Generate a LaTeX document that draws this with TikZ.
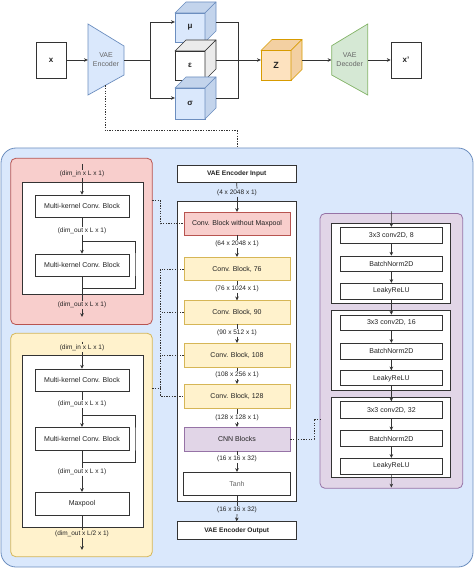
\documentclass[tikz,border=0pt]{standalone}
\usepackage{fontspec}
\setmainfont{Liberation Sans}
\usetikzlibrary{arrows.meta}
\definecolor{lc}{HTML}{333333}
\definecolor{txt}{HTML}{222222}
\definecolor{gtxt}{HTML}{666666}
\definecolor{bluef}{HTML}{DAE8FC}
\definecolor{blues}{HTML}{6C8EBF}
\definecolor{blued}{HTML}{C3D4EC}
\definecolor{redf}{HTML}{F8CECC}
\definecolor{reds}{HTML}{B85450}
\definecolor{yelf}{HTML}{FFF2CC}
\definecolor{yels}{HTML}{D6B656}
\definecolor{purf}{HTML}{E1D5E7}
\definecolor{purs}{HTML}{9673A6}
\definecolor{grnf}{HTML}{D5E8D4}
\definecolor{grns}{HTML}{82B366}
\definecolor{orgf}{HTML}{FDE2BF}
\definecolor{orgd}{HTML}{F3D0A2}
\definecolor{orgs}{HTML}{D79B00}
\definecolor{epsd}{HTML}{EBEBEB}
\newcommand\blkfont{\fontsize{7}{8.4}\selectfont}
\newcommand\dimfont{\fontsize{6.5}{7.5}\selectfont}
\newcommand\mybox[7]{%
  \pgfmathsetmacro\mbw{#5-#3}\pgfmathsetmacro\mbh{#6-#4}%
  \pgfmathsetmacro\mbx{(#3+#5)/2}\pgfmathsetmacro\mby{(#4+#6)/2}%
  \node[#2, minimum width=\mbw pt, minimum height=\mbh pt] (#1) at (\mbx,\mby) {#7};}
% cube: name, x, y(front top), w, h, d, front, side, stroke
\newcommand\mycube[9]{%
  \pgfmathsetmacro\cxa{#2}\pgfmathsetmacro\cya{#3}%
  \pgfmathsetmacro\cxb{#2+#4}\pgfmathsetmacro\cyb{#3+#5}%
  \pgfmathsetmacro\cxc{#2+#6}\pgfmathsetmacro\cxd{#2+#4+#6}%
  \pgfmathsetmacro\cyc{#3-#6}\pgfmathsetmacro\cyd{#3+#5-#6}%
  \filldraw[fill=#7, draw=#9, line width=0.7pt] (\cxa,\cya) rectangle (\cxb,\cyb);
  \filldraw[fill=#8, draw=#9, line width=0.7pt, line join=round] (\cxa,\cya) -- (\cxc,\cyc) -- (\cxd,\cyc) -- (\cxb,\cya) -- cycle;
  \filldraw[fill=#8, draw=#9, line width=0.7pt, line join=round] (\cxb,\cya) -- (\cxd,\cyc) -- (\cxd,\cyd) -- (\cxb,\cyb) -- cycle;
  \pgfmathsetmacro\mbw{#4+#6}\pgfmathsetmacro\mbh{#5+#6}%
  \pgfmathsetmacro\mbx{#2+(#4+#6)/2}\pgfmathsetmacro\mby{#3+(#5-#6)/2}%
  \node[inner sep=0pt, minimum width=\mbw pt, minimum height=\mbh pt] (#1) at (\mbx,\mby) {};}
\tikzset{
  ln/.style={draw=lc, line width=0.7pt},
  arr/.style={draw=lc, line width=0.7pt, -{Stealth[length=3.8pt,width=3.6pt]}},
  dotl/.style={draw=lc, line width=0.8pt, dash pattern=on 1.3pt off 1.3pt},
  blk/.style={draw=lc, line width=0.7pt, inner sep=0pt, font=\blkfont, text=txt},
  wrect/.style={draw=lc, line width=0.8pt, fill=white, inner sep=0pt},
  panel/.style={line width=0.8pt, inner sep=0pt, rounded corners=5pt},
  dim/.style={font=\dimfont, text=txt, inner sep=0.8pt},
  bold/.style={font=\bfseries\fontsize{6.6}{8}\selectfont, text=txt},
  cubelbl/.style={font=\bfseries\fontsize{8}{9}\selectfont, text=txt, inner sep=0pt},
}
\begin{document}
\begin{tikzpicture}[x=1pt,y=-1pt]
\useasboundingbox (0,0) rectangle (474,569);
% ---------------- top row ----------------
\mybox{xin}{blk,font=\bfseries\fontsize{8}{9}\selectfont}{36}{42}{66}{78}{x}
\filldraw[fill=bluef, draw=blues, line width=0.7pt] (88,24) -- (124,46) -- (124,75) -- (88,95) -- cycle;
\node[inner sep=0pt, minimum width=36pt, minimum height=71pt, align=center, text=gtxt, font=\fontsize{7}{9}\selectfont] (enc) at (106,60) {VAE\\Encoder};
\mycube{mu}{175}{13}{30}{29}{11}{bluef}{blued}{blues}
\node[cubelbl] (mulbl) at (190,27.5) {μ};
\mycube{eps}{175}{51}{30}{29}{11}{white}{epsd}{lc}
\node[cubelbl] (epslbl) at (190,65.5) {ε};
\mycube{sig}{175}{88}{30}{31}{11}{bluef}{blued}{blues}
\node[cubelbl] (siglbl) at (190,103.5) {σ};
\mycube{zc}{261}{50.5}{30}{30}{11}{orgf}{orgd}{orgs}
\node[cubelbl, font=\bfseries\fontsize{9}{10}\selectfont] (zlbl) at (276,65.5) {Z};
\filldraw[fill=grnf, draw=grns, line width=0.7pt] (331.7,45.7) -- (367.7,24) -- (367.7,95) -- (331.7,75) -- cycle;
\node[inner sep=0pt, minimum width=36pt, minimum height=71pt, align=center, text=gtxt, font=\fontsize{7}{9}\selectfont] (dec) at (349.7,60) {VAE\\Decoder};
\mybox{xout}{blk,font=\bfseries\fontsize{8}{9}\selectfont}{391}{42}{421}{78}{x'}
\coordinate (j1) at (150,60);
\coordinate (j2) at (238,60);
\draw[arr] (xin.east) -- (enc.west);
\draw[ln] (enc.east) -- (j1);
\draw[arr] (j1) |- (mu.west);
\draw[arr] (j1) |- (sig.west);
\draw[ln] (mu.east) -| (j2);
\draw[ln] (sig.east) -| (j2);
\draw[arr] (eps.east) -- (zc.west);
\draw[arr] (zc.east) -- (dec.west);
\draw[arr] (dec.east) -- (xout.west);
% ---------------- big panel ----------------
\mybox{bigp}{panel, fill=bluef, draw=blues, rounded corners=15pt}{1}{148}{473}{567}{}
\coordinate (es) at (105.3,85.4);
\coordinate (dk) at (105.3,130.7);
\draw[dotl] (es) -- (dk) -| (bigp.north);
% ---------------- red panel ----------------
\mybox{redp}{panel, fill=redf, draw=reds}{10.7}{158.3}{152.3}{324.5}{}
\mybox{redw}{wrect}{22}{182.3}{143.3}{294.3}{}
\mybox{rb1}{blk,fill=white}{35}{195}{129}{217.7}{Multi-kernel Conv. Block}
\mybox{rb2}{blk,fill=white}{35}{254}{129}{276.7}{Multi-kernel Conv. Block}
\node[dim] (rin) at (82,174) {(dim\_in x L x 1)};
\node[dim] (rmid) at (82,230.7) {(dim\_out x L x 1)};
\node[dim] (rout) at (82,305) {(dim\_out x L x 1)};
\coordinate (rtop) at (82,164);
\coordinate (rend) at (82,317);
\coordinate (rs1) at (82,241);
\coordinate (rs2) at (82,288.3);
\coordinate (rsc) at (135,264);
\draw[ln] (rtop) -- (rin.north);
\draw[arr] (rin.south) -- (rb1.north);
\draw[ln] (rb1.south) -- (rmid.north);
\draw[arr] (rmid.south) -- (rb2.north);
\draw[ln] (rs1) -| (rsc) |- (rs2);
\draw[ln] (rb2.south) -- (rout.north);
\draw[arr] (rout.south) -- (rend);
% ---------------- yellow panel ----------------
\mybox{yelp}{panel, fill=yelf, draw=yels}{10.7}{333.3}{152.3}{556.7}{}
\mybox{yelw}{wrect}{22}{355}{143.3}{527.3}{}
\mybox{yb1}{blk,fill=white}{35}{369}{129}{391.7}{Multi-kernel Conv. Block}
\mybox{yb2}{blk,fill=white}{35}{427.3}{129}{450.7}{Multi-kernel Conv. Block}
\mybox{ymp}{blk,fill=white}{35}{492.3}{129}{515.7}{Maxpool}
\node[dim] (yin) at (82,348) {(dim\_in x L x 1)};
\node[dim] (ymid1) at (82,404) {(dim\_out x L x 1)};
\node[dim] (ymid2) at (82,471.7) {(dim\_out x L x 1)};
\node[dim] (yout) at (82,534) {(dim\_out x L/2 x 1)};
\coordinate (ytop) at (82,341.5);
\coordinate (yend) at (82,550);
\coordinate (ys1) at (82,415.7);
\coordinate (ys2) at (82,462.3);
\coordinate (ysc) at (135,439);
\draw[ln] (ytop) -- (yin.north);
\draw[arr] (yin.south) -- (yb1.north);
\draw[ln] (yb1.south) -- (ymid1.north);
\draw[arr] (ymid1.south) -- (yb2.north);
\draw[ln] (ys1) -| (ysc) |- (ys2);
\draw[ln] (yb2.south) -- (ymid2.north);
\draw[arr] (ymid2.south) -- (ymp.north);
\draw[ln] (ymp.south) -- (yout.north);
\draw[arr] (yout.south) -- (yend);
% ---------------- middle column ----------------
\mybox{inp}{blk,fill=white,bold}{177.3}{165}{296}{182.7}{VAE Encoder Input}
\mybox{midw}{wrect}{177.3}{201.7}{296.3}{501.7}{}
\mybox{c0}{blk,fill=redf,draw=reds}{184}{212.3}{290}{235}{Conv. Block without Maxpool}
\mybox{c1}{blk,fill=yelf,draw=yels}{184}{257.3}{290}{280.7}{Conv. Block, 76}
\mybox{c2}{blk,fill=yelf,draw=yels}{184}{300.7}{290}{324}{Conv. Block, 90}
\mybox{c3}{blk,fill=yelf,draw=yels}{184}{343.3}{290}{367.3}{Conv. Block, 108}
\mybox{c4}{blk,fill=yelf,draw=yels}{184}{384.3}{290}{408.3}{Conv. Block, 128}
\mybox{c5}{blk,fill=purf,draw=purs}{184}{427.3}{290}{451}{CNN Blocks}
\mybox{c6}{blk,fill=white,text=gtxt}{183.3}{472.3}{290.7}{495.7}{Tanh}
\mybox{outp}{blk,fill=white,bold}{177.3}{521.7}{296}{539.3}{VAE Encoder Output}
\node[dim] (l1) at (237,192.7) {(4 x 2048 x 1)};
\node[dim] (l2) at (237,244.3) {(64 x 2048 x 1)};
\node[dim] (l3) at (237,288.8) {(76 x 1024 x 1)};
\node[dim] (l4) at (237,332.7) {(90 x 512 x 1)};
\node[dim] (l5) at (237,374.8) {(108 x 256 x 1)};
\node[dim] (l6) at (237,417.7) {(128 x 128 x 1)};
\node[dim] (l7) at (237,459.3) {(16 x 16 x 32)};
\node[dim] (l8) at (237,510) {(16 x 16 x 32)};
\draw[ln] (inp.south) -- (l1.north);  \draw[arr] (l1.south) -- (c0.north);
\draw[ln] (c0.south) -- (l2.north);   \draw[arr] (l2.south) -- (c1.north);
\draw[ln] (c1.south) -- (l3.north);   \draw[arr] (l3.south) -- (c2.north);
\draw[ln] (c2.south) -- (l4.north);   \draw[arr] (l4.south) -- (c3.north);
\draw[ln] (c3.south) -- (l5.north);   \draw[arr] (l5.south) -- (c4.north);
\draw[ln] (c4.south) -- (l6.north);   \draw[arr] (l6.south) -- (c5.north);
\draw[ln] (c5.south) -- (l7.north);   \draw[arr] (l7.south) -- (c6.north);
\draw[ln] (c6.south) -- (l8.north);   \draw[arr] (l8.south) -- (outp.north);
% ---------------- purple panel ----------------
\mybox{purp}{panel, fill=purf, draw=purs}{320}{213.5}{462.7}{488.3}{}
\mybox{pw1}{wrect}{331.7}{223.3}{450}{303.3}{}
\mybox{pw2}{wrect}{331.7}{310.7}{450}{390.7}{}
\mybox{pw3}{wrect}{331.7}{397.3}{450}{477.3}{}
\mybox{p1}{blk,fill=white}{340}{227.3}{442.7}{243.3}{3x3 conv2D, 8}
\mybox{p2}{blk,fill=white}{340}{256}{442.7}{271}{BatchNorm2D}
\mybox{p3}{blk,fill=white}{340}{283.3}{442.7}{299}{LeakyReLU}
\mybox{p4}{blk,fill=white}{340}{315}{442.7}{330.7}{3x3 conv2D, 16}
\mybox{p5}{blk,fill=white}{340}{343.3}{442.7}{359}{BatchNorm2D}
\mybox{p6}{blk,fill=white}{340}{370.7}{442.7}{385.7}{LeakyReLU}
\mybox{p7}{blk,fill=white}{340}{401.7}{442.7}{418.3}{3x3 conv2D, 32}
\mybox{p8}{blk,fill=white}{340}{430.7}{442.7}{446.7}{BatchNorm2D}
\mybox{p9}{blk,fill=white}{340}{458.3}{442.7}{474}{LeakyReLU}
\coordinate (ptop) at (391.35,211.3);
\coordinate (pbot) at (391.35,487.5);
\draw[arr] (ptop) -- (p1.north);
\draw[arr] (p1.south) -- (p2.north);
\draw[arr] (p2.south) -- (p3.north);
\draw[arr] (p3.south) -- (p4.north);
\draw[arr] (p4.south) -- (p5.north);
\draw[arr] (p5.south) -- (p6.north);
\draw[arr] (p6.south) -- (p7.north);
\draw[arr] (p7.south) -- (p8.north);
\draw[arr] (p8.south) -- (p9.north);
\draw[arr] (p9.south) -- (pbot);
% ---------------- dotted links ----------------
\coordinate (rd) at (152.3,200.7);
\coordinate (rk) at (160.7,223.65);
\draw[dotl] (rd) -| (rk) -- (c0.west);
\coordinate (yd) at (152.3,388.3);
\coordinate (bus) at (160.7,300);
\draw[dotl] (c1.west) -- (c1.west -| bus) -- (c4.west -| bus) -- (c4.west);
\draw[dotl] (c2.west) -- (c2.west -| bus);
\draw[dotl] (c3.west) -- (c3.west -| bus);
\draw[dotl] (yd) -- (yd -| bus);
\coordinate (pd) at (320,419);
\coordinate (pk) at (314,430);
\draw[dotl] (c5.east) -| (pk) |- (pd);
\end{tikzpicture}
\end{document}
